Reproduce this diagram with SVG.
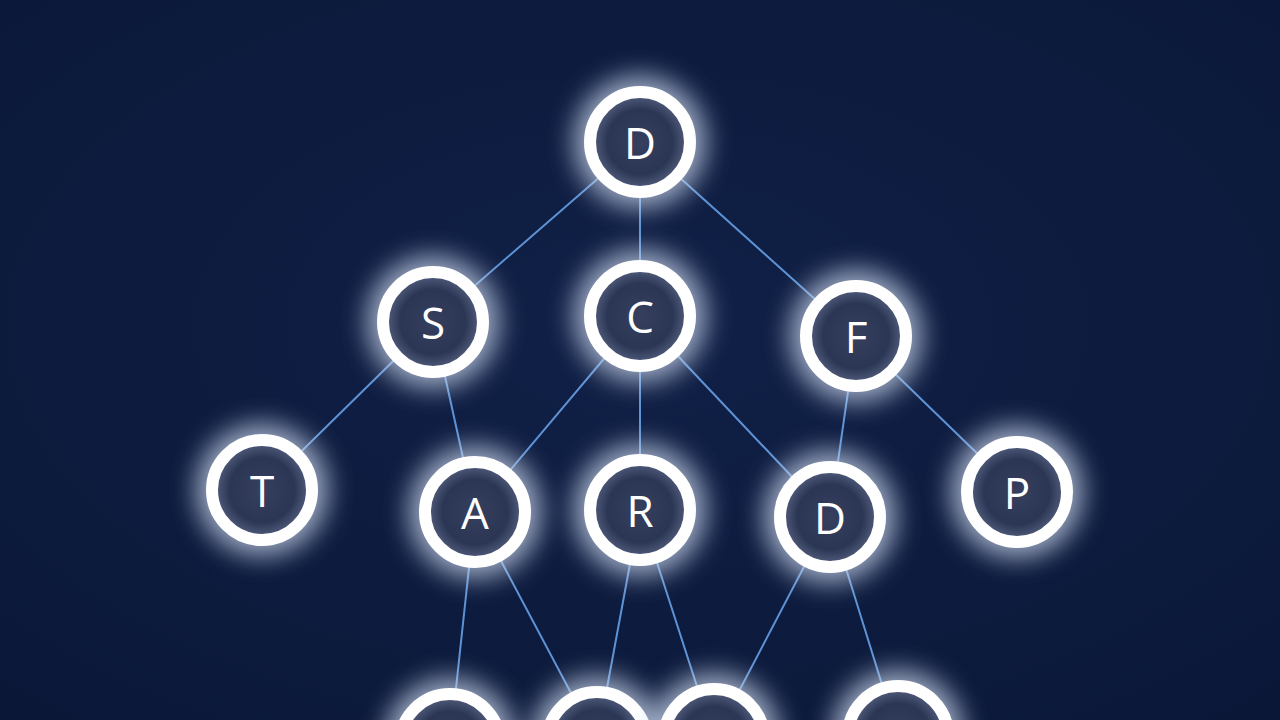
<svg xmlns="http://www.w3.org/2000/svg" width="1280" height="720" viewBox="0 0 1280 720">
<defs>
<radialGradient id="bg" cx="50%" cy="45%" r="75%">
<stop offset="0" stop-color="#112047"/>
<stop offset="1" stop-color="#0a1737"/>
</radialGradient>
<radialGradient id="inner" cx="50%" cy="50%" r="50%">
<stop offset="0" stop-color="#36405e"/>
<stop offset="0.65" stop-color="#2b3554"/>
<stop offset="1" stop-color="#5a6585"/>
</radialGradient>
<filter id="glow" x="-80%" y="-80%" width="260%" height="260%">
<feGaussianBlur stdDeviation="13"/>
</filter>
<style>
.edge{stroke:#5d93d6;stroke-width:2;fill:none;stroke-linecap:round}
.halo{fill:#cfdcf2;opacity:0.75;filter:url(#glow)}
.ring{fill:url(#inner);stroke:#ffffff;stroke-width:12}
.lbl{font-family:"Open Sans","Noto Sans",sans-serif;font-size:44px;fill:#ffffff;text-anchor:middle;dominant-baseline:central}
</style>
</defs>
<rect width="1280" height="720" fill="url(#bg)"/>
<g id="connectors">
<line class="edge" x1="640" y1="142" x2="433" y2="322"/>
<line class="edge" x1="640" y1="142" x2="640" y2="316"/>
<line class="edge" x1="640" y1="142" x2="856" y2="336"/>
<line class="edge" x1="433" y1="322" x2="262" y2="490"/>
<line class="edge" x1="433" y1="322" x2="475" y2="512"/>
<line class="edge" x1="640" y1="316" x2="475" y2="512"/>
<line class="edge" x1="640" y1="316" x2="640" y2="510"/>
<line class="edge" x1="640" y1="316" x2="830" y2="517"/>
<line class="edge" x1="856" y1="336" x2="830" y2="517"/>
<line class="edge" x1="856" y1="336" x2="1017" y2="492"/>
<line class="edge" x1="475" y1="512" x2="450" y2="744"/>
<line class="edge" x1="475" y1="512" x2="597" y2="742"/>
<line class="edge" x1="640" y1="510" x2="597" y2="742"/>
<line class="edge" x1="640" y1="510" x2="714" y2="739"/>
<line class="edge" x1="830" y1="517" x2="714" y2="739"/>
<line class="edge" x1="830" y1="517" x2="898" y2="736"/>
</g>
<g id="node-D1"><circle class="halo" cx="640" cy="142" r="66"/><circle class="ring" cx="640" cy="142" r="50"/><text class="lbl" x="640" y="142">D</text></g>
<g id="node-S"><circle class="halo" cx="433" cy="322" r="66"/><circle class="ring" cx="433" cy="322" r="50"/><text class="lbl" x="433" y="322">S</text></g>
<g id="node-C"><circle class="halo" cx="640" cy="316" r="66"/><circle class="ring" cx="640" cy="316" r="50"/><text class="lbl" x="640" y="316">C</text></g>
<g id="node-F"><circle class="halo" cx="856" cy="336" r="66"/><circle class="ring" cx="856" cy="336" r="50"/><text class="lbl" x="856" y="336">F</text></g>
<g id="node-T"><circle class="halo" cx="262" cy="490" r="66"/><circle class="ring" cx="262" cy="490" r="50"/><text class="lbl" x="262" y="490">T</text></g>
<g id="node-A"><circle class="halo" cx="475" cy="512" r="66"/><circle class="ring" cx="475" cy="512" r="50"/><text class="lbl" x="475" y="512">A</text></g>
<g id="node-R"><circle class="halo" cx="640" cy="510" r="66"/><circle class="ring" cx="640" cy="510" r="50"/><text class="lbl" x="640" y="510">R</text></g>
<g id="node-D2"><circle class="halo" cx="830" cy="517" r="66"/><circle class="ring" cx="830" cy="517" r="50"/><text class="lbl" x="830" y="517">D</text></g>
<g id="node-P"><circle class="halo" cx="1017" cy="492" r="66"/><circle class="ring" cx="1017" cy="492" r="50"/><text class="lbl" x="1017" y="492">P</text></g>
<g id="node-B1"><circle class="halo" cx="450" cy="744" r="66"/><circle class="ring" cx="450" cy="744" r="50"/></g>
<g id="node-B2"><circle class="halo" cx="597" cy="742" r="66"/><circle class="ring" cx="597" cy="742" r="50"/></g>
<g id="node-B3"><circle class="halo" cx="714" cy="739" r="66"/><circle class="ring" cx="714" cy="739" r="50"/></g>
<g id="node-B4"><circle class="halo" cx="898" cy="736" r="66"/><circle class="ring" cx="898" cy="736" r="50"/></g>
</svg>
